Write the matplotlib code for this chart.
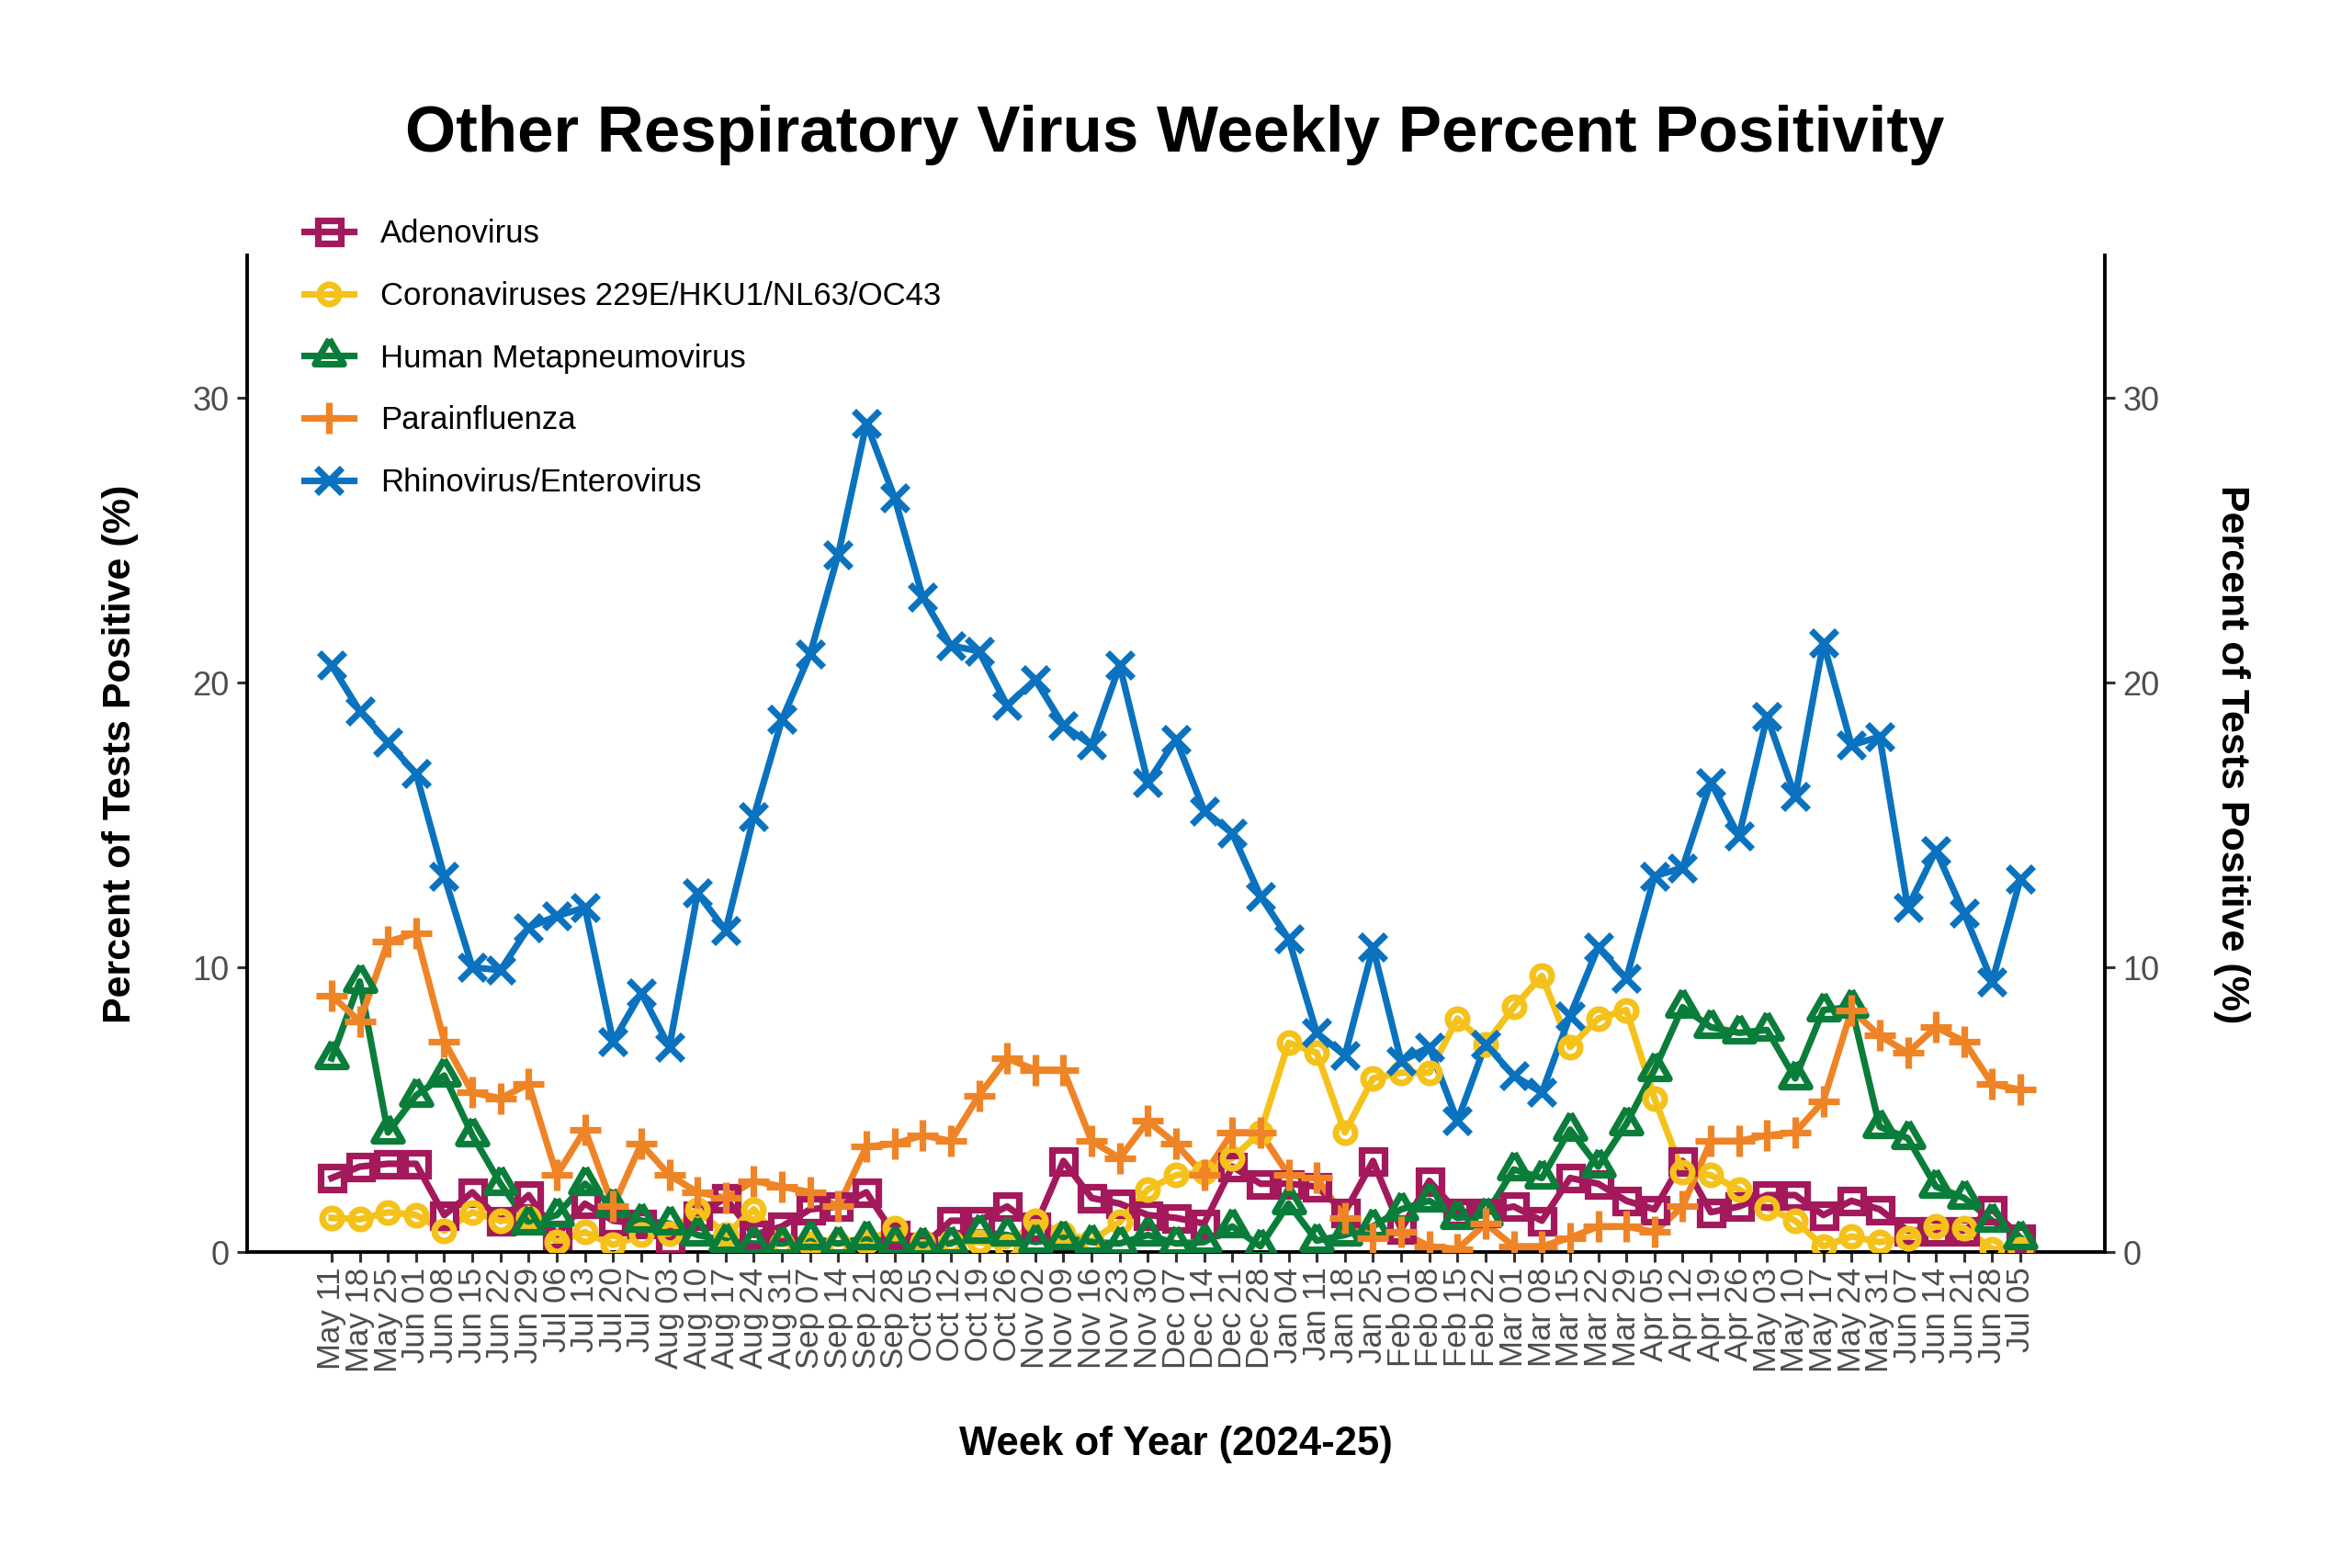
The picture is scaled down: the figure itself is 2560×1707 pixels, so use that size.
import numpy as np
import matplotlib
matplotlib.use("Agg")
import matplotlib.pyplot as plt

plt.rcParams['font.family'] = ['Liberation Sans', 'DejaVu Sans']

# --- DATA ---
weeks = ["May 11", "May 18", "May 25", "Jun 01", "Jun 08", "Jun 15", "Jun 22", "Jun 29",
         "Jul 06", "Jul 13", "Jul 20", "Jul 27", "Aug 03", "Aug 10", "Aug 17", "Aug 24",
         "Aug 31", "Sep 07", "Sep 14", "Sep 21", "Sep 28", "Oct 05", "Oct 12", "Oct 19",
         "Oct 26", "Nov 02", "Nov 09", "Nov 16", "Nov 23", "Nov 30", "Dec 07", "Dec 14",
         "Dec 21", "Dec 28", "Jan 04", "Jan 11", "Jan 18", "Jan 25", "Feb 01", "Feb 08",
         "Feb 15", "Feb 22", "Mar 01", "Mar 08", "Mar 15", "Mar 22", "Mar 29", "Apr 05",
         "Apr 12", "Apr 19", "Apr 26", "May 03", "May 10", "May 17", "May 24", "May 31",
         "Jun 07", "Jun 14", "Jun 21", "Jun 28", "Jul 05"]

adenovirus = [2.6, 3.0, 3.1, 3.1, 1.3, 2.1, 1.1, 2.0, 0.6, 1.7, 1.1, 1.0, 0.4, 1.3, 1.9, 0.6,
              0.9, 1.5, 1.6, 2.1, 0.6, 0.2, 1.1, 1.1, 1.6, 0.9, 3.2, 1.9, 1.7, 1.3, 1.2, 1.0,
              3.0, 2.4, 2.4, 2.3, 1.4, 3.2, 0.8, 2.5, 1.4, 1.4, 1.6, 1.1, 2.6, 2.4, 1.8, 1.5,
              3.2, 1.4, 1.6, 2.0, 2.0, 1.3, 1.8, 1.5, 0.75, 0.75, 0.75, 1.5, 0.5]

coronavirus = [1.2, 1.15, 1.4, 1.3, 0.75, 1.4, 1.1, 1.2, 0.35, 0.7, 0.25, 0.6, 0.65, 1.5, 0.6, 1.5,
               0.3, 0.3, 0.3, 0.35, 0.85, 0.35, 0.35, 0.35, 0.2, 1.1, 0.65, 0.4, 1.05, 2.2, 2.7, 2.8,
               3.3, 4.2, 7.35, 7.0, 4.2, 6.1, 6.3, 6.3, 8.2, 7.3, 8.6, 9.7, 7.2, 8.2, 8.5, 5.4,
               2.8, 2.7, 2.2, 1.55, 1.1, 0.2, 0.55, 0.35, 0.5, 0.9, 0.85, 0.1, 0.1]

hmpv = [6.8, 9.5, 4.2, 5.5, 6.2, 4.1, 2.4, 1.0, 1.3, 2.4, 1.6, 1.1, 1.0, 0.6, 0.4, 0.3,
        0.3, 0.5, 0.3, 0.5, 0.3, 0.25, 0.3, 0.7, 0.6, 0.35, 0.5, 0.35, 0.3, 0.6, 0.3, 0.35,
        0.9, 0.2, 1.7, 0.4, 0.6, 0.9, 1.5, 1.8, 1.2, 1.3, 2.9, 2.6, 4.3, 3.0, 4.5, 6.4,
        8.6, 7.9, 7.7, 7.8, 6.1, 8.5, 8.6, 4.4, 4.0, 2.3, 1.9, 1.1, 0.5]

parainfluenza = [9.0, 8.1, 10.9, 11.2, 7.4, 5.6, 5.4, 5.9, 2.7, 4.3, 1.6, 3.8, 2.7, 2.1, 1.9, 2.5,
                 2.3, 2.1, 1.6, 3.7, 3.8, 4.1, 3.9, 5.5, 6.8, 6.4, 6.4, 3.9, 3.3, 4.6, 3.8, 2.7,
                 4.2, 4.2, 2.7, 2.6, 1.2, 0.5, 0.7, 0.2, 0.1, 1.0, 0.2, 0.2, 0.5, 0.9, 0.9, 0.7,
                 1.6, 3.9, 3.9, 4.1, 4.2, 5.3, 8.5, 7.6, 7.0, 7.9, 7.4, 5.9, 5.7]

rhinovirus = [20.6, 19.0, 17.9, 16.8, 13.2, 10.0, 9.9, 11.4, 11.8, 12.1, 7.4, 9.1, 7.2, 12.6, 11.3, 15.3,
              18.7, 21.0, 24.5, 29.1, 26.5, 23.0, 21.3, 21.1, 19.2, 20.1, 18.5, 17.8, 20.6, 16.5, 18.0, 15.5,
              14.7, 12.5, 11.0, 7.7, 6.9, 10.7, 6.7, 7.2, 4.6, 7.3, 6.2, 5.6, 8.3, 10.7, 9.6, 13.2,
              13.5, 16.5, 14.6, 18.8, 16.0, 21.4, 17.8, 18.1, 12.1, 14.1, 11.9, 9.5, 13.1]

labels = ["Adenovirus", "Coronaviruses 229E/HKU1/NL63/OC43", "Human Metapneumovirus",
          "Parainfluenza", "Rhinovirus/Enterovirus"]
series = [adenovirus, coronavirus, hmpv, parainfluenza, rhinovirus]

# --- STYLE ---
colors = ["#A3195B", "#F4C21A", "#0B7D3A", "#EF8427", "#0A72BE"]
tri = [(0, 1), (-0.866, -0.5), (0.866, -0.5), (0, 1)]  # wider triangle, like R pch 2
markers = ["s", "o", tri, "+", "x"]
msizes = [9, 7.5, 13, 12, 10]
LW = 2.6
GREY = "#4D4D4D"

fig = plt.figure(figsize=(12.8, 8.535), dpi=200)
ax = fig.add_axes([0.1051, 0.2015, 0.7898, 0.6356])

x = np.arange(len(weeks))

# lines first (all groups), then points on top, like ggplot layers
for i, (vals, col) in enumerate(zip(series, colors)):
    ax.plot(x, vals, color=col, lw=LW, solid_joinstyle="round", zorder=2 + i * 0.01)
for i, (vals, col, mk, ms) in enumerate(zip(series, colors, markers, msizes)):
    ax.plot(x, vals, ls="none", marker=mk, ms=ms, mew=LW, mfc="none", mec=col,
            zorder=3 + i * 0.01)

# legend handles: line + marker
handles = [plt.Line2D([], [], color=c, lw=LW, marker=m, ms=s, mew=LW, mfc="none", mec=c)
           for c, m, s in zip(colors, markers, msizes)]
fig.legend(handles, labels, loc="upper left", bbox_to_anchor=(0.1293, 0.8605),
           bbox_transform=fig.transFigure, frameon=False, fontsize=12.5, borderpad=0,
           borderaxespad=0, handlelength=1.55, handletextpad=0.85, labelspacing=1.0,
           numpoints=1)

# --- AXES ---
ax.set_xlim(-3, len(weeks) + 2)
ax.set_ylim(0, 35)
ax.set_xticks(x)
ax.set_xticklabels(weeks, rotation=90, ha="center", va="top", fontsize=12.5, color=GREY)
ax.set_yticks([0, 10, 20, 30])
ax.tick_params(axis="y", left=True, right=True, labelleft=True, labelright=True,
               labelsize=13, labelcolor=GREY, length=4, width=1.1, color="#333333", pad=3)
ax.tick_params(axis="x", length=4, width=1.1, color="#333333", pad=2)

ax.spines["top"].set_visible(False)
for s in ["left", "right", "bottom"]:
    ax.spines[s].set_linewidth(1.4)
    ax.spines[s].set_color("black")

# --- TEXT ---
fig.text(0.4996, 0.914, "Other Respiratory Virus Weekly Percent Positivity",
         ha="center", va="center", fontsize=25.5, fontweight="bold")
fig.text(0.5, 0.079, "Week of Year (2024-25)", ha="center", va="center",
         fontsize=15.7, fontweight="bold")
fig.text(0.0512, 0.519, "Percent of Tests Positive (%)", ha="center", va="center",
         rotation=90, fontsize=15.5, fontweight="bold")
fig.text(0.949, 0.519, "Percent of Tests Positive (%)", ha="center", va="center",
         rotation=270, fontsize=15.5, fontweight="bold")

fig.savefig("out.png", dpi=200, facecolor="white")
